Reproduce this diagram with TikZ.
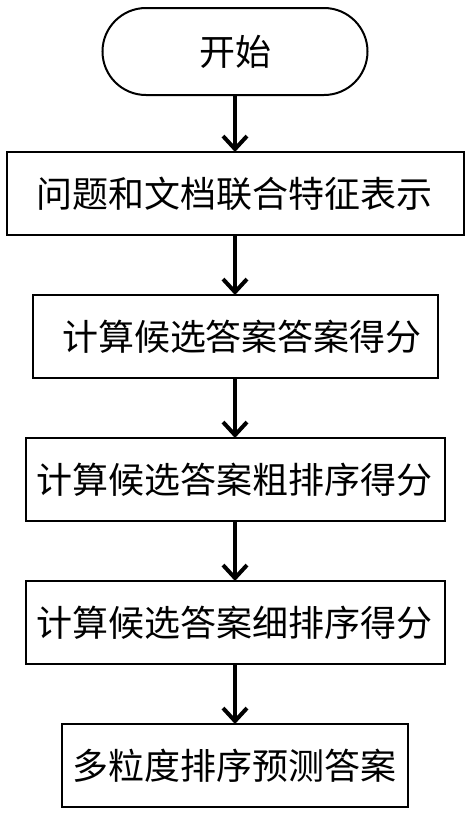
\documentclass[tikz,border=0pt]{standalone}
\usepackage{fontspec}
\newfontfamily\cjk{Noto Sans CJK SC}
\usepackage{tikz}
\usetikzlibrary{positioning,arrows.meta}

\tikzset{
  stepbox/.style={draw,line width=1pt,rectangle,minimum height=41.5pt,inner sep=0pt,outer sep=0pt,font=\cjk\fontsize{18pt}{18pt}\selectfont},
  startbox/.style={stepbox,rounded corners=21.75pt,minimum height=43.5pt},
  flow/.style={line width=2pt,-{Straight Barb[length=6.5pt,width=12pt]}}
}

\begin{document}
\begin{tikzpicture}[node distance=30pt]
\useasboundingbox (0,0) rectangle (237pt,-408pt);
\node (start) [startbox,minimum width=132.5pt] at (117.5pt,-25.75pt) {开始};
\node (feat) [stepbox,minimum width=228.5pt,below=28.5pt of start] {问题和文档联合特征表示};
\node (ans) [stepbox,minimum width=202.5pt,below=of feat] {\hspace*{7pt}计算候选答案答案得分};
\node (coarse) [stepbox,minimum width=209.5pt,below=of ans] {计算候选答案粗排序得分};
\node (fine) [stepbox,minimum width=209.5pt,below=of coarse] {计算候选答案细排序得分};
\node (pred) [stepbox,minimum width=173pt,below=of fine] {多粒度排序预测答案};
\draw[flow] (start) -- (feat);
\draw[flow] (feat) -- (ans);
\draw[flow] (ans) -- (coarse);
\draw[flow] (coarse) -- (fine);
\draw[flow] (fine) -- (pred);
\end{tikzpicture}
\end{document}
